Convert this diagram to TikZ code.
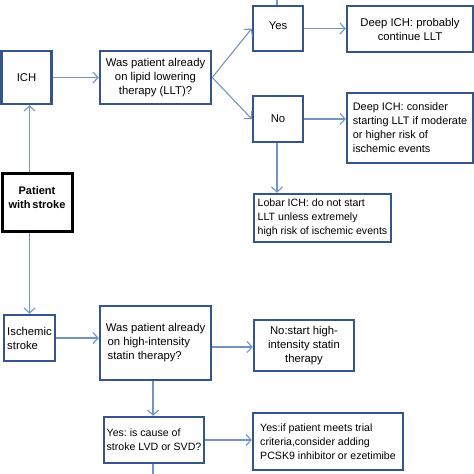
\documentclass[tikz,border=0pt]{standalone}
\usepackage{fontspec}
\setmainfont{Liberation Sans}
\usetikzlibrary{arrows.meta}
\definecolor{boxblue}{HTML}{34558B}
\definecolor{arrblue}{HTML}{7393C4}
\frenchspacing
\begin{document}
\begin{tikzpicture}[x=1pt,y=-1pt,
  box/.style={draw=boxblue, line width=2.5pt, inner sep=0pt, fill=white,
    font=\fontsize{11.3}{14}\selectfont},
  small/.style={font=\fontsize{10.6}{14}\selectfont},
  arr/.style={draw=arrblue, line width=1.1pt, -{Straight Barb[length=5pt,width=11pt]}},
  ln/.style={draw=arrblue, line width=1.1pt}]
\useasboundingbox[fill=white] (0,0) rectangle (474,474);

% ICH branch
\node[box, minimum width=50pt, minimum height=53pt] (ich) at (26.5,77.5) {ICH};
\node[box, minimum width=111pt, minimum height=53pt, align=center] (q1) at (155.5,77.5)
  {Was patient already\\on lipid lowering\\therapy (LLT)?};
\node[box, minimum width=50pt, minimum height=45pt, text depth=6pt] (yes) at (278,28.5) {Yes};
\node[box, minimum width=126pt, minimum height=46pt, align=center] (deepa) at (410,29)
  {Deep ICH: probably\\continue LLT};
\node[box, minimum width=50pt, minimum height=46pt] (no) at (278,119) {No};
\node[box, minimum width=126pt, minimum height=70pt, align=left,
  font=\fontsize{10.9}{14}\selectfont] (deepb) at (410,128)
  {Deep ICH: consider\\starting LLT if moderate\\or higher risk of\\ischemic events};
\node[box, small, minimum width=137pt, minimum height=48pt, align=left] (lobar) at (322.5,218)
  {Lobar ICH: do not start\\LLT unless extremely\\high risk of ischemic events};

% patient
\node[draw=black, line width=3pt, inner sep=0pt, minimum width=70pt, minimum height=58pt,
  align=center, text depth=8pt, font=\fontsize{11}{14}\selectfont\bfseries] (pat) at (37,202)
  {Patient\\with\,stroke};

% ischemic branch
\node[box, minimum width=51pt, minimum height=46pt, align=left] (isch) at (29.5,338)
  {Ischemic\\stroke};
\node[box, minimum width=111pt, minimum height=74pt, align=left] (q2) at (155.5,343)
  {Was patient already\\\,on high-intensity\\\,statin therapy?};
\node[box, minimum width=100pt, minimum height=51pt, align=center] (nostart) at (304,345.5)
  {No:start high-\\intensity statin\\therapy};
\node[box, small, minimum width=100pt, minimum height=46pt, align=left] (q3) at (154,440)
  {Yes: is cause of\\stroke LVD or SVD?};
\node[box, small, minimum width=150pt, minimum height=57pt, align=left] (yesif) at (328,441.5)
  {Yes:if patient meets trial\\criteria,consider adding\\PCSK9 inhibitor or ezetimibe};

\coordinate (topend) at (277,0);
\coordinate (botend) at (153,474);
\coordinate (q2e) at ([yshift=-4pt]q2.east);

% connectors
\draw[arr] (ich.east) -- (q1.west |- ich.east);
\draw[arr] (q1.east) -- (yes.west);
\draw[arr] (q1.east) -- (no.west);
\draw[arr] (yes.east) -- (deepa.west |- yes.east);
\draw[arr] (no.east) -- (deepb.west |- no.east);
\draw[arr] (no.south -| topend) -- (lobar.north -| topend);
\draw[ln] (yes.north -| topend) -- (topend);
\draw[arr] (pat.north -| isch.north) -- (ich.south -| isch.north);
\draw[arr] (pat.south -| isch.north) -- (isch.north);
\draw[arr] (isch.east) -- (q2.west |- isch.east);
\draw[arr] (q2e) -- (nostart.west |- q2e);
\draw[arr] (q2.south -| botend) -- (q3.north -| botend);
\draw[arr] (q3.east) -- (yesif.west |- q3.east);
\draw[ln] (q3.south -| botend) -- (botend);
\end{tikzpicture}
\end{document}
